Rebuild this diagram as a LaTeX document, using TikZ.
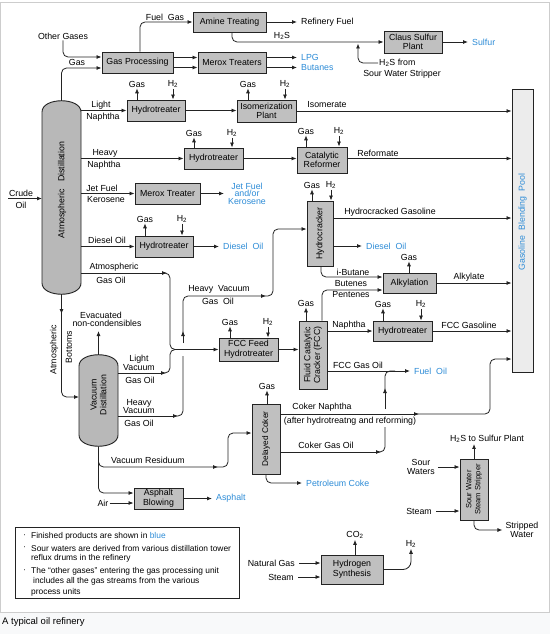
\documentclass[tikz,border=0pt]{standalone}
\usepackage{fontspec}
\setmainfont{Liberation Sans}
\usetikzlibrary{arrows.meta}
\definecolor{boxgray}{RGB}{192,192,192}
\definecolor{colgray}{RGB}{184,184,184}
\definecolor{poolgray}{RGB}{236,236,236}
\definecolor{prodblue}{RGB}{45,140,215}
\definecolor{inkc}{RGB}{35,35,35}
\definecolor{framec}{RGB}{205,205,205}
\definecolor{capbg}{RGB}{248,249,250}
\tikzset{
  box/.style={draw=inkc, fill=boxgray, line width=0.9pt, align=center, inner sep=1pt},
  lbl/.style={inner sep=1pt, align=center},
  prod/.style={lbl, text=prodblue},
  flow/.style={draw=inkc, line width=0.8pt, -{Latex[length=5pt,width=4pt]}, rounded corners=5pt},
  pipe/.style={draw=inkc, line width=0.8pt, rounded corners=5pt},
  vessel/.style={draw=inkc, fill=colgray, line width=0.9pt},
  ghost/.style={inner sep=0pt, outer sep=0pt},
  notefont/.style={font=\fontsize{8.4}{9.5}\selectfont}
}
\begin{document}
\begin{tikzpicture}[x=1pt,y=-1pt, font=\fontsize{8.8}{9.6}\selectfont]
\useasboundingbox (0,0) rectangle (550,634);
\fill[white] (0,0) rectangle (550,634);
\fill[capbg] (0,612.5) rectangle (550,634);
\draw[framec, line width=0.8pt] (0.5,2) rectangle (549.5,612.5);
\node[lbl, anchor=west, font=\fontsize{9.5}{11}\selectfont] (cap) at (1,622) {A typical oil refinery};

% ---------- vessels ----------
\draw[vessel] (42,112) .. controls (42,97) and (81,97) .. (81,112) -- (81,283) .. controls (81,298) and (42,298) .. (42,283) -- cycle;
\node[ghost, minimum width=39, minimum height=193.5] (atm) at (61.5,197.5) {};
\node[lbl, rotate=90] (atmt) at (62,190) {Atmospheric\ \ \ Distillation};

\draw[vessel] (79,366) .. controls (79,351) and (118,351) .. (118,366) -- (118,435) .. controls (118,450) and (79,450) .. (79,435) -- cycle;
\node[ghost, minimum width=39, minimum height=91.5] (vac) at (98.5,400.5) {};
\node[lbl, rotate=90] (vact) at (98.5,395) {Vacuum\\Distillation};

% ---------- boxes ----------
\node[box, minimum width=71, minimum height=21] (gp) at (137.5,62.5) {Gas Processing};
\node[box, minimum width=73, minimum height=20] (amine) at (229.5,22) {Amine Treating};
\node[box, minimum width=68, minimum height=21] (merox) at (232,62.5) {Merox Treaters};
\node[box, minimum width=58, minimum height=22] (claus) at (413,42) {Claus Sulfur\\Plant};
\node[box, minimum width=58, minimum height=21] (ht1) at (156,110.5) {Hydrotreater};
\node[box, minimum width=59, minimum height=22] (iso) at (266.5,111) {Isomerization\\Plant};
\node[box, minimum width=59, minimum height=21] (ht2) at (213.5,158.5) {Hydrotreater};
\node[box, minimum width=50, minimum height=26] (ref) at (322,160) {Catalytic\\Reformer};
\node[box, minimum width=65, minimum height=21] (mxt) at (167.5,193.5) {Merox Treater};
\node[box, minimum width=58, minimum height=21] (ht3) at (164,246.5) {Hydrotreater};
\node[box, minimum width=26, minimum height=65] (hc) at (320,233.5) {};
\node[lbl, rotate=90] (hct) at (hc) {Hydrocracker};
\node[box, minimum width=53, minimum height=20] (alk) at (409.5,283) {Alkylation};
\node[box, minimum width=59, minimum height=20] (ht4) at (402.5,331) {Hydrotreater};
\node[box, minimum width=59, minimum height=23] (fccht) at (248.5,349.5) {FCC Feed\\Hydrotreater};
\node[box, minimum width=28, minimum height=68] (fcc) at (313,355) {};
\node[lbl, rotate=90] (fcct) at (fcc) {Fluid Catalytic\\Cracker (FCC)};
\node[box, minimum width=28, minimum height=70] (coker) at (266,439) {};
\node[lbl, rotate=90, font=\fontsize{8.3}{9.5}\selectfont] (cokt) at (coker) {Delayed Coker};
\node[box, minimum width=49, minimum height=21] (asph) at (158.5,498.5) {Asphalt\\Blowing};
\node[box, minimum width=28, minimum height=61] (sws) at (474,489.5) {};
\node[lbl, rotate=90, font=\fontsize{7.6}{9}\selectfont] (swst) at (sws) {Sour Water\\Steam Stripper};
\node[box, minimum width=62, minimum height=29] (hsyn) at (352,569.5) {Hydrogen\\Synthesis};
\node[box, fill=poolgray, minimum width=21, minimum height=283] (pool) at (522.5,230.5) {};
\node[prod, rotate=90] (poolt) at (522.5,222) {Gasoline\ \ Blending\ \ Pool};

% ---------- gas section ----------
\node[lbl] (othg) at (63,36) {Other Gases};
\node[lbl] (lgas) at (77,62) {Gas};
\node[lbl] (lfuel) at (165,17) {Fuel\ \ Gas};
\node[lbl] (lh2s) at (282,36) {H\textsubscript{2}S};
\node[lbl, anchor=west] (rfuel) at (300,22) {Refinery Fuel};
\node[prod, anchor=west] (sulf) at (471,42) {Sulfur};
\node[prod, anchor=west] (lpg) at (300,57.5) {LPG};
\node[prod, anchor=west] (but) at (300,67.5) {Butanes};
\node[lbl, anchor=west] (h2sf) at (378,63) {H\textsubscript{2}S\ from};
\node[lbl] (swsref) at (402,74) {Sour Water Stripper};
\coordinate (h2sj) at (358,43.5);

\draw[flow] (othg.south) |- (gp.west |- 0,57);
\draw[flow] (atm.north) |- (gp.west |- 0,68);
\draw[flow] (gp.north -| 140,0) |- (amine.west);
\draw[flow, shorten >=3pt] (amine.east) -- (rfuel.west);
\draw[flow] (amine.south -| 232,0) |- (claus.west);
\draw[flow] (h2sf.west) -| (h2sj);
\draw[flow, shorten >=3pt] (claus.east) -- (sulf.west);
\draw[flow] (gp.east |- 0,57.5) -- (merox.west |- 0,57.5);
\draw[flow] (gp.east |- 0,67.5) -- (merox.west |- 0,67.5);
\draw[flow, shorten >=3pt] (merox.east |- 0,57.5) -- (lpg.west);
\draw[flow, shorten >=3pt] (merox.east |- 0,67.5) -- (but.west);

% ---------- gas / H2 side streams ----------
\node[lbl] (g1) at (137,84) {Gas};  \draw[flow] (g1.south |- ht1.north) -- (g1.south);
\node[lbl] (h1) at (173,84) {H\textsubscript{2}}; \draw[flow] (h1.south) -- (h1.south |- ht1.north);
\node[lbl] (g2) at (248,84) {Gas};  \draw[flow] (g2.south |- iso.north) -- (g2.south);
\node[lbl] (h2) at (285,84) {H\textsubscript{2}}; \draw[flow] (h2.south) -- (h2.south |- iso.north);
\node[lbl] (g3) at (194,133) {Gas}; \draw[flow] (g3.south |- ht2.north) -- (g3.south);
\node[lbl] (h3) at (232,133) {H\textsubscript{2}}; \draw[flow] (h3.south) -- (h3.south |- ht2.north);
\node[lbl] (g4) at (306,131) {Gas}; \draw[flow] (g4.south |- ref.north) -- (g4.south);
\node[lbl] (h4) at (339,131) {H\textsubscript{2}}; \draw[flow] (h4.south) -- (h4.south |- ref.north);
\node[lbl] (g5) at (145,219) {Gas}; \draw[flow] (g5.south |- ht3.north) -- (g5.south);
\node[lbl] (h5) at (182,219) {H\textsubscript{2}}; \draw[flow] (h5.south) -- (h5.south |- ht3.north);
\node[lbl] (g6) at (312,185) {Gas}; \draw[flow] (g6.south |- hc.north) -- (g6.south);
\node[lbl] (h6) at (331,185) {H\textsubscript{2}}; \draw[flow] (h6.south) -- (h6.south |- hc.north);
\node[lbl] (g7) at (409,257) {Gas}; \draw[flow] (g7.south |- alk.north) -- (g7.south);
\node[lbl] (g8) at (383,304) {Gas}; \draw[flow] (g8.south |- ht4.north) -- (g8.south);
\node[lbl] (h8) at (421,304) {H\textsubscript{2}}; \draw[flow] (h8.south) -- (h8.south |- ht4.north);
\node[lbl] (g9) at (230,322) {Gas}; \draw[flow] (g9.south |- fccht.north) -- (g9.south);
\node[lbl] (h9) at (268,322) {H\textsubscript{2}}; \draw[flow] (h9.south) -- (h9.south |- fccht.north);
\node[lbl] (g10) at (306,303) {Gas}; \draw[flow] (g10.south |- fcc.north) -- (g10.south);
\node[lbl] (g11) at (267,386) {Gas}; \draw[flow] (g11.south |- coker.north) -- (g11.south);

% ---------- straight-run products ----------
\node[lbl] (lln1) at (101,105) {Light};
\node[lbl] (lln2) at (103,117) {Naphtha};
\draw[flow] (atm.east |- ht1.west) -- (ht1.west);
\draw[flow] (ht1.east) -- (ht1.east -| iso.west);
\node[lbl] (lisom) at (327,105) {Isomerate};
\draw[flow] (iso.east |- 0,111) -- (pool.west |- 0,111);

\node[lbl] (lhn1) at (105,153) {Heavy};
\node[lbl] (lhn2) at (104,165) {Naphtha};
\draw[flow] (atm.east |- ht2.west) -- (ht2.west);
\draw[flow] (ht2.east) -- (ht2.east -| ref.west);
\node[lbl] (lref) at (378,153) {Reformate};
\draw[flow] (ref.east |- 0,158.5) -- (pool.west |- 0,158.5);

\node[lbl] (ljf1) at (102,188) {Jet Fuel};
\node[lbl] (ljf2) at (106,200) {Kerosene};
\draw[flow] (atm.east |- mxt.west) -- (mxt.west);
\node[prod, anchor=west, font=\fontsize{8.8}{7.6}\selectfont] (jet) at (227,193.5) {Jet Fuel\\and/or\\Kerosene};
\draw[flow, shorten >=3pt] (mxt.east) -- (jet.west);

\node[lbl] (ldo) at (107,240) {Diesel Oil};
\draw[flow] (atm.east |- ht3.west) -- (ht3.west);
\node[prod, anchor=west] (do1) at (222,246.5) {Diesel\ \ Oil};
\draw[flow, shorten >=3pt] (ht3.east) -- (do1.west);

% ---------- hydrocracker / alkylation / FCC ----------
\node[lbl] (lhcg) at (390,212) {Hydrocracked Gasoline};
\draw[flow] (hc.east |- 0,218) -- (pool.west |- 0,218);
\node[prod, anchor=west] (do2) at (365,246) {Diesel\ \ Oil};
\draw[flow, shorten >=3pt] (hc.east |- 0,246) -- (do2.west);

\node[lbl] (libu) at (353,272) {i-Butane};
\draw[flow] (hc.south -| 321,0) |- (alk.west |- 0,277);
\node[lbl] (lbut) at (351,284) {Butenes};
\node[lbl] (lpen) at (351,295) {Pentenes};
\draw[flow] (fcc.north -| 322,0) |- (alk.west |- 0,290);
\node[lbl] (lalky) at (469,277) {Alkylate};
\draw[flow] (alk.east) -- (alk.east -| pool.west);

\node[lbl] (lnap) at (349,325) {Naphtha};
\draw[flow] (fcc.east |- 0,331) -- (ht4.west);
\node[lbl] (lfccg) at (469,325) {FCC Gasoline};
\draw[flow] (ht4.east) -- (ht4.east -| pool.west);

\node[lbl] (lfgo) at (358,365) {FCC Gas Oil};
\node[prod, anchor=west] (fo) at (413,371) {Fuel\ \ Oil};
\draw[flow, shorten >=3pt] (fcc.east |- 0,371) -- (fo.west);
\draw[flow] (fccht.east) -- (fccht.east -| fcc.west);

% ---------- gas oils to FCC feed / hydrocracker ----------
\node[lbl] (lago1) at (114,267) {Atmospheric};
\node[lbl] (lago2) at (111,280) {Gas Oil};
\draw[flow] (atm.east |- 0,273) -- (167,273);
\draw[pipe] (163,273) -- (170,273) -- (170,349.5) -- (178,349.5);

\node[lbl] (llv1) at (139,359) {Light};
\node[lbl] (llv2) at (139,368) {Vacuum};
\node[lbl] (llv3) at (140,380) {Gas Oil};
\draw[flow] (vac.east |- 0,373) -- (166,373);
\draw[pipe] (162,373) -- (170,373) -- (170,349.5) -- (178,349.5);
\draw[flow] (176,349.5) -- (fccht.west);

\node[lbl] (lhv1) at (139,403) {Heavy};
\node[lbl] (lhv2) at (139,411) {Vacuum};
\node[lbl] (lhv3) at (139,423) {Gas Oil};
\draw[flow] (vac.east |- 0,416) -- (178,416);
\draw[pipe] (174,416) -- (183,416) -- (183,356);
\draw[flow] (183,343) -- (183,331);
\draw[flow] (183,334) -- (183,296) -- (266,296);
\draw[flow] (262,296) -- (273,296) -- (273,229) -- (hc.west |- 0,229);
\node[lbl] (lhvgo1) at (219,289) {Heavy\ \ Vacuum};
\node[lbl] (lhvgo2) at (218,301) {Gas\ \ Oil};

% ---------- crude and bottoms ----------
\node[lbl] (lcrude) at (21,193) {Crude};
\node[lbl] (loil) at (21,205) {Oil};
\coordinate (crs) at (8,198.5);
\draw[flow] (crs) -- (atm.west |- crs);

\node[lbl, rotate=90] (lab1) at (54,350) {Atmospheric};
\node[lbl, rotate=90] (lab2) at (69,347) {Bottoms};
\draw[flow] (atm.south) -- (atm.south |- 0,314);
\draw[flow] (atm.south |- 0,310) |- (vac.west |- 0,397);

\node[lbl] (levac1) at (101,315) {Evacuated};
\node[lbl] (levac2) at (107,323.5) {non-condensibles};
\draw[flow] (vac.north) -- (vac.north |- 0,331);

% ---------- vacuum residuum / asphalt / coker ----------
\node[lbl] (lvr) at (148,460) {Vacuum Residuum};
\draw[flow] (vac.south) |- (asph.west |- 0,493);
\draw[flow] (vac.south |- 0,455) |- (218,467);
\draw[flow] (214,467) -- (228,467) -- (228,433) -- (coker.west |- 0,433);
\node[lbl] (lair) at (103,503) {Air};
\draw[flow] (lair.east) -- (asph.west |- lair.east);
\node[prod, anchor=west] (asp) at (215,498.5) {Asphalt};
\draw[flow, shorten >=3pt] (asph.east) -- (asp.west);

\node[lbl] (lcn) at (322,407) {Coker Naphtha};
\node[lbl] (lcn2) at (350,421) {(after hydrotreatng and reforming)};
\draw[flow] (coker.east |- 0,414) -- (419,414);
\draw[flow] (415,414) -- (490,414) -- (490,359) -- (pool.west |- 0,359);
\node[lbl] (lcgo) at (326,445) {Coker Gas Oil};
\draw[flow] (coker.east |- 0,452) -- (381,452);
\draw[pipe] (377,452) -- (385,452) -- (385,427);
\draw[flow] (385,409) -- (385,388);
\draw[pipe] (385,391) -- (385,371) -- (395,371);
\node[prod, anchor=west] (pc) at (305,483) {Petroleum Coke};
\draw[flow, shorten >=3pt] (coker.south) |- (pc.west);

% ---------- sour water stripper ----------
\node[lbl] (lh2ssp) at (487,439) {H\textsubscript{2}S to Sulfur Plant};
\draw[flow] (sws.north) -- (sws.north |- lh2ssp.south);
\node[lbl] (lsour) at (421,467) {Sour\\Waters};
\draw[flow, shorten <=2pt] (lsour.east |- 0,467) -- (sws.west |- 0,467);
\node[lbl, anchor=east] (lsteam) at (433,511) {Steam};
\draw[flow, shorten <=3pt] (lsteam.east) -- (sws.west |- lsteam.east);
\node[lbl] (lstrip) at (522,530) {Stripped\\Water};
\draw[flow, shorten >=2pt] (sws.south) |- (lstrip.west);

% ---------- hydrogen synthesis ----------
\node[lbl, anchor=east] (lng) at (296,563) {Natural Gas};
\draw[flow, shorten <=3pt] (lng.east) -- (hsyn.west |- lng.east);
\node[lbl, anchor=east] (lstm2) at (295,577) {Steam};
\draw[flow, shorten <=3pt] (lstm2.east) -- (hsyn.west |- lstm2.east);
\node[lbl] (lco2) at (355,535) {CO\textsubscript{2}};
\draw[flow] (hsyn.north -| lco2.south) -- (lco2.south);
\node[lbl] (lh2out) at (411,544) {H\textsubscript{2}};
\draw[flow, rounded corners=8pt] (hsyn.east) -| (lh2out.south);

% ---------- notes ----------
\node[draw=inkc, line width=0.8pt, minimum width=224, minimum height=71, anchor=north west, inner sep=0pt] (notes) at (15,527) {};
\node[lbl, notefont, anchor=west] (nb1) at (22,536) {·};
\node[lbl, notefont, anchor=west] (nt1) at (30,536) {Finished products are shown in \textcolor{prodblue}{blue}};
\node[lbl, notefont, anchor=west] (nb2) at (22,548) {·};
\node[lbl, notefont, anchor=west] (nt2) at (30,548) {Sour waters are derived from various distillation tower};
\node[lbl, notefont, anchor=west] (nt3) at (30,558.5) {reflux drums in the refinery};
\node[lbl, notefont, anchor=west] (nb3) at (22,571) {·};
\node[lbl, notefont, anchor=west] (nt4) at (30,571) {The “other gases” entering the gas processing unit};
\node[lbl, notefont, anchor=west] (nt5) at (32,581.5) {includes all the gas streams from the various};
\node[lbl, notefont, anchor=west] (nt6) at (30,592) {process units};
\end{tikzpicture}
\end{document}
